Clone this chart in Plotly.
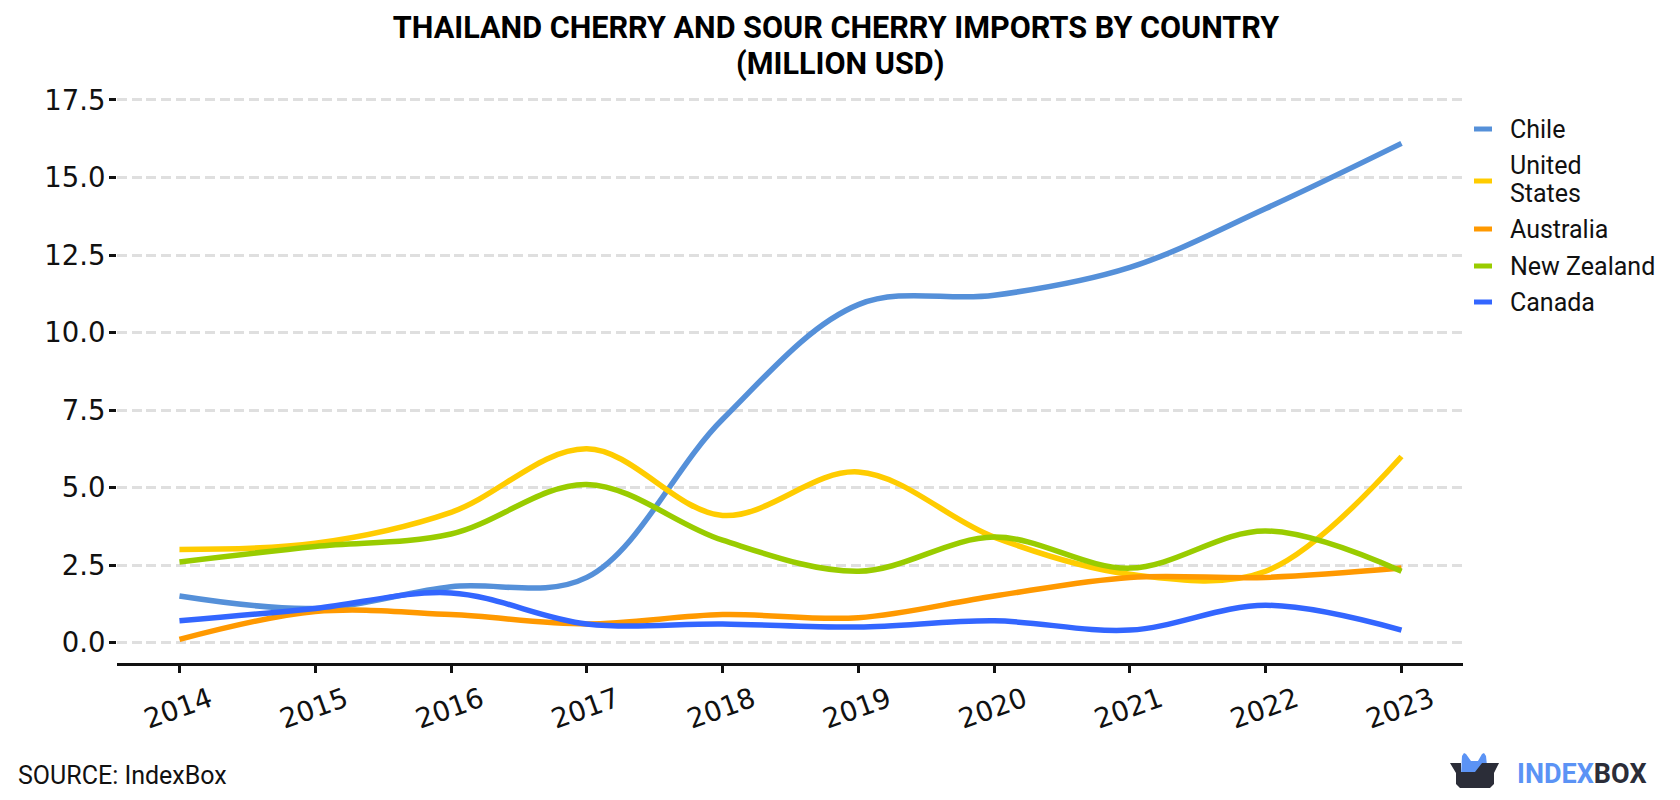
import plotly.graph_objects as go

years = [2014, 2015, 2016, 2017, 2018, 2019, 2020, 2021, 2022, 2023]
series_names = ["Chile", "United States", "Australia", "New Zealand", "Canada"]
chile = [1.5, 1.1, 1.8, 2.1, 7.2, 10.9, 11.2, 12.1, 14.0, 16.1]
united_states = [3.0, 3.2, 4.2, 6.25, 4.1, 5.5, 3.4, 2.2, 2.3, 6.0]
australia = [0.1, 1.0, 0.9, 0.6, 0.9, 0.8, 1.5, 2.1, 2.1, 2.4]
new_zealand = [2.6, 3.1, 3.5, 5.1, 3.3, 2.3, 3.4, 2.4, 3.6, 2.3]
canada = [0.7, 1.1, 1.6, 0.6, 0.6, 0.5, 0.7, 0.4, 1.2, 0.4]
series_values = [chile, united_states, australia, new_zealand, canada]
colors = ["#5590d9", "#ffcc00", "#ff9900", "#99cc00", "#3366ff"]
y_ticks = [0.0, 2.5, 5.0, 7.5, 10.0, 12.5, 15.0, 17.5]

W, H = 1680, 800
LEFT, RIGHT, TOP, BOTTOM = 117, 1463, 91, 663


def px(x):
    """Page pixel column to plot-area paper fraction."""
    return (x - LEFT) / (RIGHT - LEFT)


def py(y):
    """Page pixel row to plot-area paper fraction."""
    return 1 - (y - TOP) / (BOTTOM - TOP)


fig = go.Figure()
for name, values, color in zip(series_names, series_values, colors):
    fig.add_trace(go.Scatter(
        x=years, y=values, name=name, mode="lines",
        line=dict(color=color, width=5.5, shape="spline", smoothing=1),
        showlegend=False, cliponaxis=False,
    ))

# Hand-placed legend: short colour dashes with wrapped labels
legend_dash_rows = [129, 181, 229, 266, 302]
legend_label_lines = [[("Chile", 129)], [("United", 165), ("States", 193)],
                      [("Australia", 229)], [("New Zealand", 266)], [("Canada", 302)]]


def label(text, x, y, size, anchor="left"):
    return dict(text=text, xref="paper", yref="paper", x=px(x), y=py(y),
                xanchor=anchor, yanchor="middle", align="left", showarrow=False,
                font=dict(family="Roboto", size=size, color="#111"))


annotations = []
shapes = []
for color, row, lines in zip(colors, legend_dash_rows, legend_label_lines):
    shapes.append(dict(type="line", xref="paper", yref="paper",
                       x0=px(1474), x1=px(1492), y0=py(row), y1=py(row),
                       line=dict(color=color, width=5)))
    for text, y in lines:
        annotations.append(label(text, 1508, y, 25))

# Source line
annotations.append(label("SOURCE: IndexBox", 16, 775, 25))

# Second title line, slightly off the first line's centre
annotations.append(dict(text="<b>(MILLION USD)</b>", xref="paper", yref="paper",
                        x=px(840), y=py(64), xanchor="center", yanchor="middle",
                        showarrow=False, font=dict(family="Roboto", size=30.6, color="#000")))

# Brand wordmark
annotations.append(dict(text="<b><span style='color:#5b93f5'>INDEX</span>"
                             "<span style='color:#2b2d38'>BOX</span></b>",
                        xref="paper", yref="paper", x=px(1515), y=py(774),
                        xanchor="left", yanchor="middle", showarrow=False,
                        font=dict(family="Roboto", size=27)))


def logo_path(points):
    return "M" + " L".join(f"{px(x):.5f},{py(y):.5f}" for x, y in points) + " Z"


# Brand mark: open box with a blue shape rising out of it
shapes.append(dict(type="path", xref="paper", yref="paper", layer="above",
                   path=logo_path([(1461, 775), (1462, 756), (1464, 753), (1466, 754),
                                   (1471, 761), (1478, 761), (1482, 754), (1484, 753),
                                   (1486, 756), (1488, 775)]),
                   fillcolor="#5b93f5", line=dict(width=0)))
shapes.append(dict(type="path", xref="paper", yref="paper", layer="above",
                   path=logo_path([(1450, 763), (1461, 763), (1461, 772), (1475, 772),
                                   (1482, 763), (1499, 763), (1494, 773), (1494, 784),
                                   (1490, 788), (1460, 788), (1456, 784), (1456, 773)]),
                   fillcolor="#2b2d38", line=dict(width=0)))

fig.update_layout(
    width=W, height=H,
    margin=dict(l=LEFT, r=W - RIGHT, t=TOP, b=H - BOTTOM, autoexpand=False),
    paper_bgcolor="white", plot_bgcolor="white",
    title=dict(text="<b>THAILAND CHERRY AND SOUR CHERRY IMPORTS BY COUNTRY</b>",
               x=836 / W, xanchor="center", xref="container",
               y=1 - 27.5 / H, yanchor="middle", yref="container",
               font=dict(family="Roboto", size=30.6, color="#000")),
    xaxis=dict(range=[2013.54, 2023.453], tickmode="array", tickvals=years,
               ticktext=[str(y) for y in years], tickangle=-20, ticklabelshift=30,
               showgrid=False, zeroline=False, showline=True, linecolor="#111", linewidth=3,
               ticks="outside", ticklen=7, tickwidth=3, tickcolor="#111",
               tickfont=dict(family="DejaVu Sans", size=27.5, color="#111")),
    yaxis=dict(range=[-0.661, 17.79], tickmode="array", tickvals=y_ticks,
               ticktext=[f"{v:.1f}" for v in y_ticks], ticklabelstandoff=-2,
               showgrid=True, gridcolor="#dfdfdf", gridwidth=3, griddash="10px,4.67px",
               zeroline=False, showline=False,
               ticks="outside", ticklen=7, tickwidth=3, tickcolor="#111",
               tickfont=dict(family="DejaVu Sans", size=27.5, color="#111")),
    shapes=shapes, annotations=annotations,
)

fig.write_html("out.html")
